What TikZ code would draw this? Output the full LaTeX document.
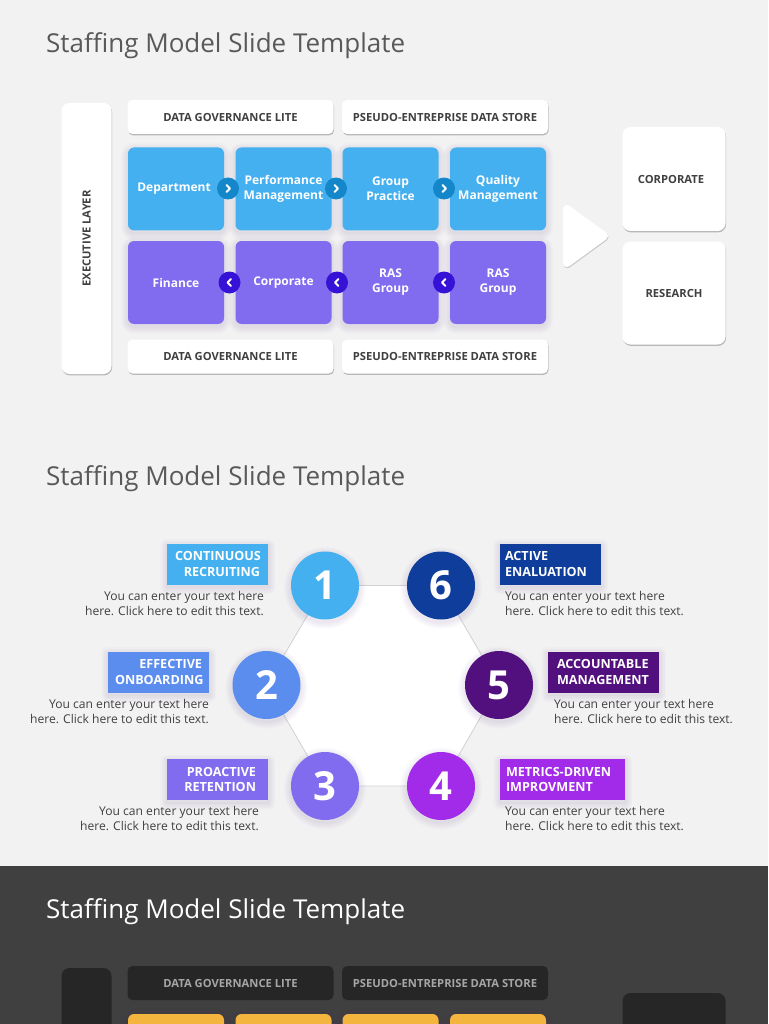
\documentclass[tikz,border=0pt]{standalone}
\usepackage{fontspec}
\setmainfont{Open Sans}
\usetikzlibrary{shadows}
\definecolor{pagebg}{HTML}{F2F2F2}
\definecolor{darkbg}{HTML}{404040}
\definecolor{darkbox}{HTML}{262626}
\definecolor{inktext}{HTML}{404040}
\definecolor{titletext}{HTML}{595959}
\definecolor{tileblue}{HTML}{45B0EF}
\definecolor{tilepurple}{HTML}{816BEE}
\definecolor{tileyellow}{HTML}{F4B53F}
\definecolor{dotblue}{HTML}{1487CB}
\definecolor{dotpurple}{HTML}{3612D6}
\definecolor{stepblue}{HTML}{5B8DEF}
\definecolor{stepviolet}{HTML}{A12BE8}
\definecolor{stepplum}{HTML}{52107E}
\definecolor{stepnavy}{HTML}{0F3D9C}
\definecolor{glowtint}{HTML}{5A3C8C}
\tikzset{
  softshadow/.style={drop shadow={shadow xshift=0.6pt,shadow yshift=-1.4pt,fill=black,opacity=0.24}},
  glowlayer/.style={preaction={draw=glowtint,opacity=0.022,line width=#1,line join=round,transform canvas={yshift=-2.5pt}}},
  softglow/.style={glowlayer=14pt,glowlayer=11pt,glowlayer=8pt,glowlayer=5pt,glowlayer=2pt},
  pagetitle/.style={anchor=base west,inner sep=0pt,font=\fontsize{26}{32}\selectfont},
  whitebox/.style={draw=none,fill=white,rounded corners=5pt,softshadow,text=inktext,align=center,inner sep=0pt,font=\fontsize{11.2}{13}\selectfont\bfseries},
  darkpanel/.style={draw=none,fill=darkbox,rounded corners=5pt,text=white!65!black,align=center,inner sep=0pt,font=\fontsize{11.2}{13}\selectfont\bfseries},
  tile/.style={draw=none,rounded corners=6pt,softglow,text=white,align=center,inner sep=0pt,minimum width=96pt,minimum height=83pt,font=\fontsize{12}{15}\selectfont\bfseries},
  dot/.style={circle,draw=none,inner sep=0pt,minimum size=22pt},
  stepdot/.style={circle,draw=none,text=white,inner sep=0pt,minimum size=68pt,softglow,font=\fontsize{40}{44}\selectfont\bfseries},
  tagbox/.style={draw=none,text=white,inner sep=0pt,minimum height=41pt,softglow,font=\fontsize{12.6}{15.5}\selectfont\bfseries},
  bodytext/.style={inner sep=0pt,text=inktext,font=\fontsize{12.1}{15.3}\selectfont},
  chevron/.style={draw=white,line width=2pt,line cap=round,line join=round}
}
\newcommand{\chevright}[1]{\draw[chevron] ([xshift=-1.5pt,yshift=3.5pt]#1.center) -- ([xshift=2pt]#1.center) -- ([xshift=-1.5pt,yshift=-3.5pt]#1.center);}
\newcommand{\chevleft}[1]{\draw[chevron] ([xshift=1.5pt,yshift=3.5pt]#1.center) -- ([xshift=-2pt]#1.center) -- ([xshift=1.5pt,yshift=-3.5pt]#1.center);}
\begin{document}
\begin{tikzpicture}[x=1pt,y=-1pt]
  \path[use as bounding box,clip] (0,0) rectangle (768,1024);
  \fill[pagebg] (0,0) rectangle (768,1024);
  \fill[darkbg] (0,866) rectangle (768,1024);

  % top slide
  \node[pagetitle,text=titletext] (title1) at (46,52.5) {Staffing Model Slide Template};
  \node[whitebox,rounded corners=8pt,minimum width=271pt,minimum height=50pt,rotate=90] (exec) at (86.5,238.5) {EXECUTIVE LAYER};
  \node[whitebox,minimum width=206pt,minimum height=34pt] (gov1) at (230.5,117) {DATA GOVERNANCE LITE};
  \node[whitebox,minimum width=206pt,minimum height=34pt] (store1) at (445,117) {PSEUDO-ENTREPRISE DATA STORE};
  \node[whitebox,minimum width=206pt,minimum height=34pt] (gov2) at (230.5,356.5) {DATA GOVERNANCE LITE};
  \node[whitebox,minimum width=206pt,minimum height=34pt] (store2) at (445,356.5) {PSEUDO-ENTREPRISE DATA STORE};
  \node[tile,fill=tileblue] (dept) at (176,189) {\hspace*{-4pt}Department};
  \node[tile,fill=tileblue] (perf) at (283.5,189) {Performance\\Management};
  \node[tile,fill=tileblue] (group) at (390.5,189) {Group\\Practice};
  \node[tile,fill=tileblue] (qual) at (498,189) {Quality\\Management};
  \node[tile,fill=tilepurple] (fin) at (176,282.5) {Finance};
  \node[tile,fill=tilepurple] (corp) at (283.5,282.5) {Corporate};
  \node[tile,fill=tilepurple] (ras1) at (390.5,282.5) {RAS\\Group};
  \node[tile,fill=tilepurple] (ras2) at (498,282.5) {RAS\\Group};
  \node[dot,fill=dotblue] (a1) at (228,188.5) {};
  \node[dot,fill=dotblue] (a2) at (336,188.5) {};
  \node[dot,fill=dotblue] (a3) at (444,188.5) {};
  \node[dot,fill=dotpurple] (b1) at (229.5,282.5) {};
  \node[dot,fill=dotpurple] (b2) at (337,282.5) {};
  \node[dot,fill=dotpurple] (b3) at (444,282.5) {};
  \chevright{a1} \chevright{a2} \chevright{a3}
  \chevleft{b1} \chevleft{b2} \chevleft{b3}
  \draw[fill=white,draw=white,line width=8pt,line join=round,preaction={draw=black!22,fill=black!22,line width=8pt,line join=round,transform canvas={xshift=0.6pt,yshift=-1pt}}] (567,209) -- (604,236) -- (567,263) -- cycle;
  \node[whitebox,minimum width=103pt,minimum height=104pt,rounded corners=8pt] (corpbox) at (674,179) {\hspace*{-6pt}CORPORATE};
  \node[whitebox,minimum width=103pt,minimum height=103pt,rounded corners=8pt] (resbox) at (674,293) {RESEARCH};

  % hexagon slide
  \node[pagetitle,text=titletext] (title2) at (46,485) {Staffing Model Slide Template};
  \coordinate (c1) at (325,585.5);
  \coordinate (c2) at (266.5,685);
  \coordinate (c3) at (325,786);
  \coordinate (c4) at (441,786);
  \coordinate (c5) at (499,685);
  \coordinate (c6) at (441,585.5);
  \draw[black!18,fill=white,line width=0.8pt] (c1) -- (c2) -- (c3) -- (c4) -- (c5) -- (c6) -- cycle;
  \node[stepdot,fill=tileblue] (s1) at (c1) {1};
  \node[stepdot,fill=stepblue] (s2) at (c2) {2};
  \node[stepdot,fill=tilepurple] (s3) at (c3) {3};
  \node[stepdot,fill=stepviolet] (s4) at (c4) {4};
  \node[stepdot,fill=stepplum] (s5) at (c5) {5};
  \node[stepdot,fill=stepnavy] (s6) at (c6) {6};
  \node[tagbox,fill=tileblue,minimum width=101pt,text width=85pt,align=right] (t1) at (217.5,564) {CONTINUOUS\\RECRUITING};
  \node[tagbox,fill=stepblue,minimum width=101pt,text width=87pt,align=right] (t2) at (158.5,672) {EFFECTIVE\\ONBOARDING};
  \node[tagbox,fill=tilepurple,minimum width=101pt,text width=77pt,align=right] (t3) at (217.5,779.5) {PROACTIVE\\RETENTION};
  \node[tagbox,fill=stepnavy,minimum width=101pt,text width=91pt,align=left] (t6) at (550.5,564) {ACTIVE\\ENALUATION};
  \node[tagbox,fill=stepplum,minimum width=111pt,text width=93pt,align=left] (t5) at (603.5,672) {ACCOUNTABLE\\MANAGEMENT};
  \node[tagbox,fill=stepviolet,minimum width=125pt,text width=113pt,align=left] (t4) at (562.5,779.5) {METRICS-DRIVEN\\IMPROVMENT};
  \node[bodytext,align=right,anchor=north east] (d1) at (264,591) {You can enter your text here\\here. Click here to edit this text.};
  \node[bodytext,align=right,anchor=north east] (d2) at (209,699) {You can enter your text here\\here. Click here to edit this text.};
  \node[bodytext,align=right,anchor=north east] (d3) at (259,806) {You can enter your text here\\here. Click here to edit this text.};
  \node[bodytext,align=left,anchor=north west] (d6) at (505,591) {You can enter your text here\\here. Click here to edit this text.};
  \node[bodytext,align=left,anchor=north west] (d5) at (554,699) {You can enter your text here\\here. Click here to edit this text.};
  \node[bodytext,align=left,anchor=north west] (d4) at (505,806) {You can enter your text here\\here. Click here to edit this text.};

  % dark slide, cut off by the page
  \node[pagetitle,text=white] (title3) at (46,918) {Staffing Model Slide Template};
  \node[darkpanel,rounded corners=8pt,minimum width=50pt,minimum height=271pt] (exec3) at (86.5,1103.5) {};
  \node[darkpanel,minimum width=206pt,minimum height=34pt] (gov3) at (230.5,983) {DATA GOVERNANCE LITE};
  \node[darkpanel,minimum width=206pt,minimum height=34pt] (store3) at (445,983) {PSEUDO-ENTREPRISE DATA STORE};
  \node[darkpanel,minimum width=103pt,minimum height=104pt,rounded corners=8pt] (corp3) at (674,1045) {};
  \node[tile,fill=tileyellow] (y1) at (176,1055.5) {};
  \node[tile,fill=tileyellow] (y2) at (283.5,1055.5) {};
  \node[tile,fill=tileyellow] (y3) at (390.5,1055.5) {};
  \node[tile,fill=tileyellow] (y4) at (498,1055.5) {};
\end{tikzpicture}
\end{document}
